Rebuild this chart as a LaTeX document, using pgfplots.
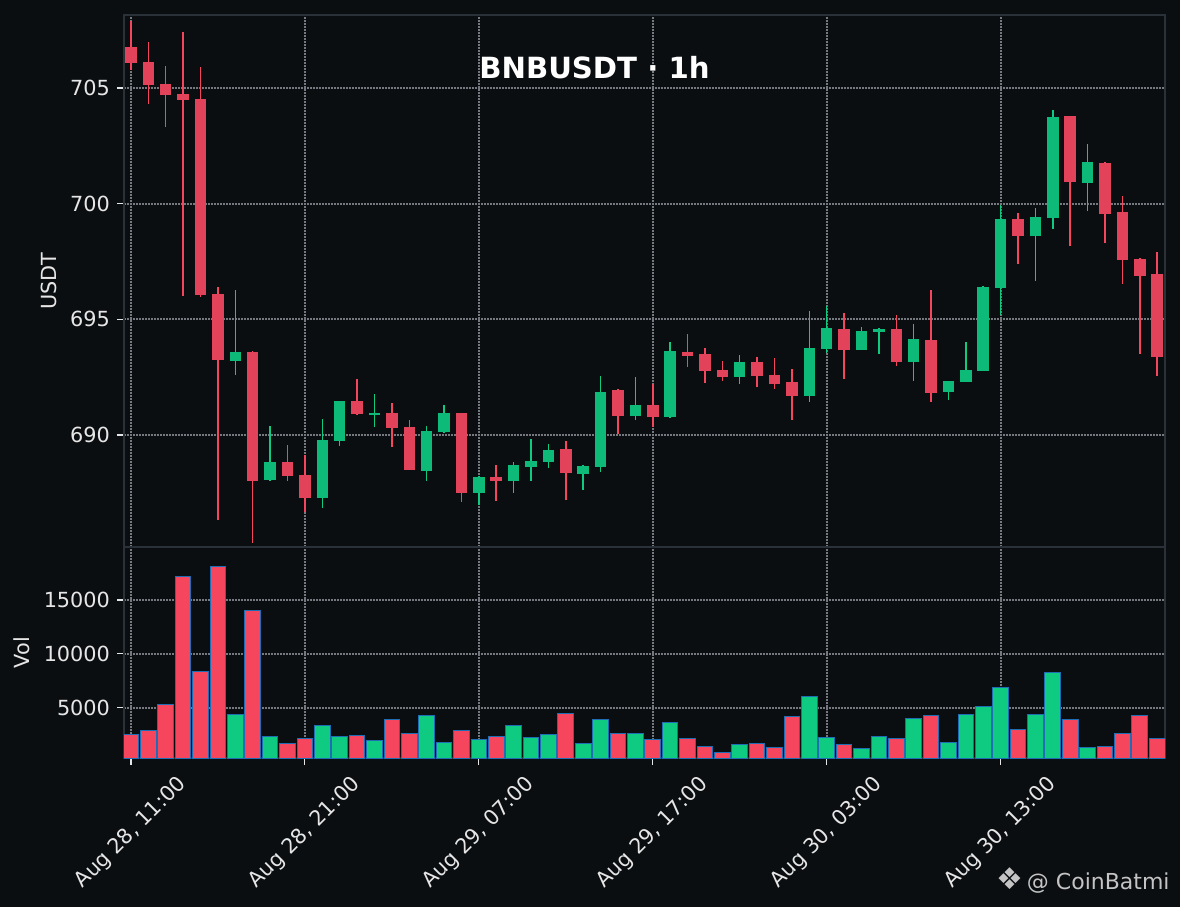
\documentclass[border=0pt]{standalone}
\usepackage{fontspec}
\setmainfont{DejaVu Sans}
\usepackage{pgfplots}
\usepackage{pgfplotstable}
\pgfplotsset{compat=1.18}
\definecolor{bg}{HTML}{0B0E11}
\definecolor{framec}{HTML}{2B3139}
\definecolor{gridc}{HTML}{767A80}
\definecolor{cred}{HTML}{F6465D}
\definecolor{credbody}{HTML}{E2435A}
\definecolor{cgreen}{HTML}{0ECB81}
\definecolor{cgreenbody}{HTML}{0DBA78}
\definecolor{vedge}{HTML}{1F6DB5}
\definecolor{tickc}{HTML}{E6E6E6}
\definecolor{wm}{HTML}{C4C4C4}

\pgfplotstableread{
i o h l c v
0 706.78 707.92 705.78 706.08 2523
1 706.14 707.02 704.34 705.13 2895
2 705.19 705.97 703.32 704.71 5309
3 704.75 707.45 696.00 704.48 17214
4 704.54 705.93 695.97 696.05 8375
5 696.11 696.42 686.34 693.24 18142
7 693.60 693.62 685.35 688.01 14040
9 688.85 689.56 688.01 688.23 1687
10 688.29 689.12 686.68 687.27 2152
13 691.47 692.45 690.88 690.90 2430
15 690.98 691.38 689.49 690.33 3916
16 690.37 690.65 688.48 688.50 2616
19 690.94 690.96 687.11 687.48 2895
21 688.21 688.70 687.16 688.02 2337
25 689.38 689.74 687.21 688.34 4474
28 691.93 691.98 690.04 690.83 2616
30 691.30 692.23 690.35 690.79 2059
32 693.62 694.36 692.95 693.43 2121
33 693.49 693.76 692.26 692.78 1378
34 692.84 693.20 692.33 692.52 851
36 693.18 693.36 692.09 692.56 1687
37 692.62 693.36 692.00 692.21 1285
38 692.28 692.85 690.65 691.70 4195
41 694.61 695.27 692.43 693.69 1594
44 694.61 695.19 692.99 693.17 2121
46 694.14 696.27 691.44 691.84 4288
51 699.37 699.58 697.40 698.63 2988
54 703.78 703.80 698.18 700.92 3916
56 701.79 701.80 698.31 699.57 1409
57 699.63 700.32 696.54 697.58 2616
58 697.64 697.65 693.51 696.89 4288
59 696.96 697.91 692.56 693.36 2152
}\redtab

\pgfplotstableread{
i o h l c v
6 693.22 696.30 692.60 693.60 4381
8 688.05 690.37 688.03 688.85 2337
11 687.27 690.71 686.87 689.79 3359
12 689.73 691.50 689.53 691.47 2337
14 690.89 691.80 690.37 690.95 1966
17 688.45 690.39 688.01 690.20 4288
18 690.14 691.30 690.12 690.94 1780
20 687.48 688.25 686.97 688.21 2059
22 688.02 688.87 687.50 688.69 3359
23 688.63 689.83 688.02 688.90 2245
24 688.84 689.61 688.58 689.38 2523
26 688.34 688.70 687.62 688.67 1687
27 688.63 692.55 688.40 691.89 3916
29 690.83 692.51 690.65 691.28 2616
31 690.79 694.02 690.77 693.62 3638
35 692.52 693.46 692.20 693.18 1594
39 691.70 695.40 691.44 693.79 6053
40 693.73 695.57 693.57 694.61 2245
42 693.70 694.67 693.68 694.52 1223
43 694.46 694.62 693.51 694.61 2337
45 693.17 694.80 692.35 694.14 4009
47 691.84 692.36 691.53 692.35 1780
48 692.32 694.02 692.30 692.84 4381
49 692.79 696.48 692.77 696.43 5124
50 696.38 699.97 695.19 699.37 6889
52 698.63 699.81 696.67 699.44 4381
53 699.41 704.05 698.92 703.78 8282
55 700.92 702.58 699.70 701.79 1316
}\greentab

\pgfplotsset{
  panel/.style={
    scale only axis, width=520.5pt,
    xmin=-0.4, xmax=59.45,
    axis line style={draw=framec, line width=0.8pt},
    grid=major,
    major grid style={draw=gridc, line width=0.9pt, dash pattern=on 0.85pt off 0.65pt},
    tick style={draw=tickc, line width=0.6pt},
    major tick length=3.5pt,
    tick align=outside,
    ticklabel style={text=tickc, font=\fontsize{10.4}{12}\selectfont},
    label style={text=tickc, font=\fontsize{10.4}{12}\selectfont},
    /pgf/number format/assume math mode=true,
    /pgf/number format/1000 sep={},
    scaled y ticks=false,
    xtick={0,10,20,30,40,50},
    ytick pos=left, xtick pos=bottom,
    axis background/.style={fill=bg},
  },
  wick/.style={draw=none, mark=none, forget plot,
    error bars/.cd, y dir=both, y explicit, error mark=none,
    error bar style={draw=#1, solid, line width=0.75pt}},
  body/.style={draw=none, mark=none, forget plot,
    error bars/.cd, y dir=both, y explicit, error mark=none,
    error bar style={draw=#1, solid, line width=5.75pt}},
}

\begin{document}
\begin{tikzpicture}
\useasboundingbox (0,0) rectangle (590pt,453.5pt);
\fill[bg] (0,0) rectangle (590pt,453.5pt);

\begin{axis}[panel,
  at={(62pt,180pt)}, anchor=south west,
  height=266pt,
  ymin=685.16, ymax=708.16,
  ytick={690,695,700,705},
  xticklabels={},
  x tick style={draw=none},
  ylabel={USDT},
]
\addplot[wick=cred] table[x=i, y expr={(\thisrow{h}+\thisrow{l})/2}, y error expr={(\thisrow{h}-\thisrow{l})/2}] {\redtab};
\addplot[wick=cgreen] table[x=i, y expr={(\thisrow{h}+\thisrow{l})/2}, y error expr={(\thisrow{h}-\thisrow{l})/2}] {\greentab};
\addplot[body=credbody] table[x=i, y expr={(\thisrow{o}+\thisrow{c})/2}, y error expr={abs(\thisrow{o}-\thisrow{c})/2}] {\redtab};
\addplot[body=cgreenbody] table[x=i, y expr={(\thisrow{o}+\thisrow{c})/2}, y error expr={abs(\thisrow{o}-\thisrow{c})/2}] {\greentab};
\end{axis}

\begin{axis}[panel,
  at={(62pt,74.5pt)}, anchor=south west,
  height=105.5pt,
  ymin=330, ymax=19920,
  ytick={5000,10000,15000},
  xticklabels={{Aug 28, 11:00},{Aug 28, 21:00},{Aug 29, 07:00},{Aug 29, 17:00},{Aug 30, 03:00},{Aug 30, 13:00}},
  xticklabel style={yshift=-34pt, rotate=45, anchor=center},
  ylabel={Vol},
]
\addplot[ybar, bar width=0.9, bar shift=0pt, fill=cred, draw=vedge, line width=0.5pt] table[x=i, y=v] {\redtab};
\addplot[ybar, bar width=0.9, bar shift=0pt, fill=cgreen, draw=vedge, line width=0.5pt] table[x=i, y=v] {\greentab};
\end{axis}

\node[text=white, font=\bfseries\fontsize{14.6}{17}\selectfont] at (297.25pt,419.5pt) {BNBUSDT · 1h};
\node[anchor=east, text=wm, font=\fontsize{11}{13}\selectfont, inner sep=0pt] at (585pt,13.5pt) {{\fontsize{15}{15}\selectfont ❖}\,@ CoinBatmi};
\end{tikzpicture}
\end{document}
